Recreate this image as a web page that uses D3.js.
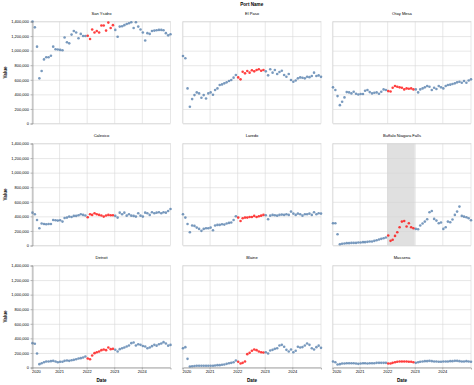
<!DOCTYPE html>
<html><head><meta charset="utf-8">
<script src="https://cdn.jsdelivr.net/npm/d3@7"></script>
<style>html,body{margin:0;padding:0;background:#fff;} svg{display:block;font-family:"Liberation Sans",Arial,sans-serif;}</style>
</head><body><svg id="chart" width="474" height="385"></svg>
<script>
// Monthly values (thousands), Dec 2019 .. Dec 2024 (61 months)
const portNames = ["San Ysidro","El Paso","Otay Mesa","Calexico","Laredo","Buffalo Niagara Falls","Detroit","Blaine","Massena"];
const sanYsidro = [1400,1320,1055,620,720,880,910,910,930,1055,1020,1015,1010,1005,1180,1115,1100,1220,1270,1250,1170,1230,1200,1200,1205,
  1160,1290,1250,1270,1250,1345,1345,1275,1385,1310,1350,1285,
  1190,1330,1335,1350,1365,1375,1390,1310,1390,1330,1290,1250,1140,1240,1230,1270,1275,1280,1285,1285,1280,1240,1210,1225];
const elPaso = [927,895,482,230,335,390,427,413,353,390,344,413,427,395,459,482,528,537,551,565,583,597,629,665,633,
  606,711,688,720,698,730,716,734,744,725,734,716,
  661,744,698,734,680,707,725,665,642,680,597,574,590,620,633,628,620,642,636,652,698,652,660,640];
const otayMesa = [496,459,376,252,298,358,431,427,413,436,408,399,404,404,450,459,431,413,422,427,408,436,468,459,445,
  440,491,514,505,496,491,468,482,477,482,468,468,
  427,468,482,496,514,505,459,491,473,514,496,482,514,528,533,542,551,565,574,560,583,560,590,606];
const calexico = [451,429,351,237,301,296,292,296,296,351,347,342,347,328,378,383,397,392,406,406,415,429,420,411,388,
  429,420,442,429,420,411,397,411,420,415,415,406,
  383,451,429,451,410,429,410,406,397,442,410,397,451,442,420,456,442,451,456,442,456,451,474,501];
const laredo = [429,383,296,182,274,269,246,228,201,228,237,237,246,210,274,283,283,292,287,301,310,315,351,401,383,
  337,374,383,383,392,392,406,392,401,410,420,415,
  360,410,420,415,410,420,424,420,429,420,465,438,420,438,429,410,429,429,438,420,456,429,442,438];
const buffaloNiagaraFalls = [305,305,155,18,23,27,32,32,36,36,36,41,41,46,46,50,55,55,64,73,82,91,100,110,137,
  64,78,132,182,251,328,337,260,305,251,237,228,
  223,274,301,328,360,456,474,365,342,305,315,228,251,328,320,356,420,465,534,406,396,388,374,347];
const detroit = [334,325,192,46,59,73,82,82,87,91,82,73,78,78,91,96,91,100,105,114,123,128,137,151,123,
  114,165,197,210,220,238,247,238,275,252,256,243,
  220,252,265,275,288,302,334,343,302,320,311,295,288,265,275,293,311,300,320,329,348,330,300,310];
const blaine = [265,279,119,14,18,20,23,23,23,23,23,23,23,23,27,32,32,37,41,50,59,64,73,96,78,
  55,64,82,183,201,229,247,238,220,210,206,210,
  192,233,242,256,265,302,311,284,242,220,247,210,229,284,275,280,302,329,311,265,247,279,300,270];
const massena = [82,73,41,46,55,55,59,59,59,59,55,50,55,59,59,55,59,59,59,64,64,64,64,64,55,
  55,64,73,78,82,82,82,82,78,78,73,64,
  73,78,82,87,87,91,87,82,82,78,78,82,82,82,87,87,91,91,87,82,82,87,82,78];
const seriesValues = [sanYsidro, elPaso, otayMesa, calexico, laredo, buffaloNiagaraFalls, detroit, blaine, massena];

const firstMonth = "2019-12-15", lastMonth = "2024-12-15";
const yTickValues = [0,200,400,600,800,1000,1200,1400];
const xTickYears = ["2020","2021","2022","2023","2024"];
const highlightYear = 2022;
const bandPort = "Buffalo Niagara Falls";
const bandRange = ["2022-01-01","2023-01-01"];

const parse = d3.timeParse("%Y-%m-%d");
const months = d3.timeMonth.range(parse(firstMonth), d3.timeMonth.offset(parse(lastMonth), 1)).map(d => { const c = new Date(d); c.setDate(15); return c; });

const W = 138, H = 102;
const colX = [32.5, 183, 333];
const rowY = [21.5, 143.5, 265.5];
const svg = d3.select("#chart");
const x = d3.scaleTime().domain(d3.extent(months)).range([0, W]);
const y = d3.scaleLinear().domain([0, 1400]).range([H, 0]);
const fmt = v => d3.format(",")(v * 1000);
const xTicks = xTickYears.map(s => d3.timeParse("%Y")(s));
const LBL = 4, HDR = 4.1, TTL = 4.6;

svg.append("text").attr("x", (colX[0] + colX[2] + W) / 2).attr("y", 4.6)
  .attr("text-anchor", "middle").attr("dominant-baseline", "middle")
  .attr("font-size", TTL).attr("font-weight", "bold").attr("fill", "#000").text("Port Name");

portNames.forEach((name, k) => {
  const col = k % 3, row = Math.floor(k / 3);
  const g = svg.append("g").attr("transform", `translate(${colX[col]},${rowY[row]})`);
  // grid
  g.append("g").call(d3.axisLeft(y).tickValues(yTickValues).tickSize(-W).tickFormat(""))
    .call(s => { s.select(".domain").remove(); s.selectAll("line").attr("stroke", "#d6d6d6").attr("stroke-width", 0.6); });
  g.append("g").attr("transform", `translate(0,${H})`).call(d3.axisBottom(x).tickValues(xTicks).tickSize(-H).tickFormat(""))
    .call(s => { s.select(".domain").remove(); s.selectAll("line").attr("stroke", "#d6d6d6").attr("stroke-width", 0.6); });
  // band
  if (name === bandPort) {
    g.append("rect").attr("x", x(parse(bandRange[0]))).attr("y", 0)
      .attr("width", x(parse(bandRange[1])) - x(parse(bandRange[0]))).attr("height", H)
      .attr("fill", "#d3d3d3").attr("opacity", 0.7);
  }
  g.append("rect").attr("width", W).attr("height", H).attr("fill", "none").attr("stroke", "#d6d6d6").attr("stroke-width", 0.6);
  // points
  const data = months.map((d, i) => ({ date: d, value: seriesValues[k][i] }));
  g.selectAll("circle.pt").data(data).join("circle")
    .attr("cx", d => x(d.date)).attr("cy", d => y(d.value)).attr("r", 1.3)
    .attr("fill", d => d.date.getFullYear() === highlightYear ? "#ff0000" : "#4c78a8")
    .attr("opacity", 0.75);
  // title
  g.append("text").attr("x", W / 2).attr("y", -7.5).attr("text-anchor", "middle").attr("dominant-baseline", "middle")
    .attr("font-size", HDR).attr("fill", "#000").text(name);
  if (col === 0) {
    const ax = g.append("g").call(d3.axisLeft(y).tickValues(yTickValues).tickFormat(fmt).tickSize(2).tickPadding(1.5));
    ax.attr("font-family", null);
    ax.select(".domain").attr("stroke", "#888").attr("stroke-width", 0.6);
    ax.selectAll(".tick line").attr("stroke", "#888").attr("stroke-width", 0.6);
    ax.selectAll(".tick text").attr("font-size", LBL).attr("fill", "#000");
    g.append("text").attr("transform", `translate(-26.8,${H / 2}) rotate(-90)`).attr("text-anchor", "middle")
      .attr("dominant-baseline", "middle").attr("font-size", TTL).attr("font-weight", "bold").attr("fill", "#000").text("Value");
  }
  if (row === 2) {
    const ax = g.append("g").attr("transform", `translate(0,${H})`)
      .call(d3.axisBottom(x).tickValues(xTicks).tickFormat(d3.timeFormat("%Y")).tickSize(2).tickPadding(1));
    ax.attr("font-family", null);
    ax.select(".domain").attr("stroke", "#888").attr("stroke-width", 0.6);
    ax.selectAll(".tick line").attr("stroke", "#888").attr("stroke-width", 0.6);
    ax.selectAll(".tick text").attr("font-size", LBL).attr("fill", "#000")
      .attr("text-anchor", (d, i) => i === 0 ? "start" : "middle");
    g.append("text").attr("x", W / 2).attr("y", H + 13.5).attr("text-anchor", "middle").attr("dominant-baseline", "middle")
      .attr("font-size", TTL).attr("font-weight", "bold").attr("fill", "#000").text("Date");
  }
});
</script></body></html>
